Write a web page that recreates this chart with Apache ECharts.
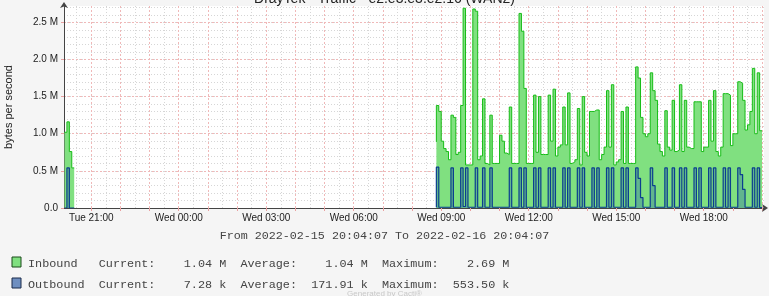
<!DOCTYPE html>
<html>
<head>
<meta charset="utf-8">
<script src="https://cdn.jsdelivr.net/npm/echarts@6/dist/echarts.min.js"></script>
<style>html,body{margin:0;padding:0;background:#f5f5f5}#c{width:769px;height:296px}</style>
</head>
<body>
<div id="c"></div>
<script>
// ---- data (bytes per second, in millions) ----
const titleText = 'DrayTek - Traffic - e2:e3:e3:e2:16 (WAN2)';
const yAxisName = 'bytes per second';
const tickLabels = ['Tue 21:00','Wed 00:00','Wed 03:00','Wed 06:00','Wed 09:00','Wed 12:00','Wed 15:00','Wed 18:00'];
const yTickLabels = ['0.0','0.5 M','1.0 M','1.5 M','2.0 M','2.5 M'];
const seg1Start = 'Tue 20:05';
const inbound1 = [1.02,1.02,1.16,0.76,0.54];
const outbound1 = [0.00,0.00,0.54,0.00,0.00];
const seg2Start = 'Wed 08:50';
const inbound2 = [
0.89,1.38,1.30,0.90,0.80,0.76,0.65,1.25,1.22,0.72,
0.75,1.38,2.69,0.58,0.58,0.58,2.68,2.65,0.65,0.70,
1.47,0.60,0.58,1.25,0.60,0.60,0.60,0.98,0.90,0.74,
0.72,1.36,0.60,0.60,0.60,2.62,2.38,1.61,0.60,0.60,
0.60,1.52,0.75,1.50,0.72,0.72,0.72,1.52,0.90,1.60,
0.70,0.82,0.85,1.36,0.85,1.55,0.60,0.62,0.65,1.34,
0.58,1.50,0.75,0.70,1.30,1.30,1.32,1.32,0.65,0.72,
0.82,1.58,0.82,1.66,0.58,0.62,0.65,1.30,0.60,1.36,
0.60,0.60,0.60,1.90,1.75,1.22,1.00,0.96,1.00,1.82,
1.58,1.45,0.86,0.76,0.70,1.31,0.82,0.78,1.45,0.76,
0.78,1.66,0.76,1.45,0.82,0.80,0.80,1.43,1.43,1.43,
0.76,0.82,0.82,1.45,0.90,1.58,0.76,0.70,0.82,1.54,
1.54,1.52,0.84,1.00,1.00,1.70,1.68,1.45,1.05,1.12,
1.30,1.88,1.00,1.82,1.04];
const outbound2 = [
0.01,0.55,0.01,0.01,0.01,0.01,0.01,0.54,0.01,0.01,
0.01,0.54,0.02,0.54,0.01,0.01,0.01,0.54,0.01,0.01,
0.54,0.01,0.01,0.54,0.01,0.01,0.01,0.01,0.01,0.01,
0.01,0.54,0.01,0.01,0.01,0.54,0.01,0.54,0.01,0.01,
0.01,0.54,0.01,0.54,0.01,0.01,0.01,0.54,0.01,0.54,
0.01,0.01,0.01,0.54,0.01,0.54,0.01,0.01,0.01,0.54,
0.01,0.54,0.01,0.01,0.01,0.54,0.01,0.54,0.01,0.01,
0.01,0.54,0.01,0.54,0.01,0.01,0.01,0.54,0.01,0.54,
0.01,0.01,0.01,0.54,0.40,0.14,0.01,0.01,0.01,0.54,
0.30,0.01,0.01,0.01,0.01,0.54,0.01,0.01,0.54,0.01,
0.01,0.54,0.01,0.54,0.01,0.01,0.01,0.54,0.01,0.54,
0.01,0.01,0.01,0.54,0.01,0.54,0.01,0.01,0.01,0.54,
0.01,0.54,0.01,0.01,0.01,0.54,0.45,0.25,0.01,0.01,
0.01,0.54,0.01,0.54,0.007];
const rangeText = 'From 2022-02-15 20:04:07 To 2022-02-16 20:04:07';
const legendRows = [
  ['Inbound',  '1.04 M', '1.04 M',   '2.69 M'],
  ['Outbound', '7.28 k', '171.91 k', '553.50 k']
];

// ---- minute categories from 20:04:07 Tue to 20:04:07 Wed ----
const categories = [];
for (let k = 0; k <= 1440; k++) {
  const t = 20 * 60 + 4 + k;
  const day = t >= 1440 ? 'Wed' : 'Tue';
  const hh = Math.floor((t % 1440) / 60), mm = t % 60;
  categories.push(day + ' ' + String(hh).padStart(2, '0') + ':' + String(mm).padStart(2, '0'));
}
function build(startLabel, vals) {
  const s = categories.indexOf(startLabel);
  return vals.map((v, i) => [s + 5 * i, v * 1e6]);
}

const pad = (s, n) => s.padStart(n, ' ');
const rowText = r => (r[0] + '  ').padEnd(10, ' ') + 'Current:' + pad(r[1], 10) + '  Average:' + pad(r[2], 10) + '  Maximum:' + pad(r[3], 10);

const chart = echarts.init(document.getElementById('c'), null, {renderer: 'canvas'});
const mono = '"Liberation Mono", monospace';
const sans = '"Liberation Sans", Arial, sans-serif';
const inStyle = {type: 'line', xAxisIndex: 1, yAxisIndex: 1, step: 'start', showSymbol: false,
  lineStyle: {color: '#17bd17', width: 1}, areaStyle: {color: '#80e080', opacity: 1}, z: 2};
const outStyle = {type: 'line', xAxisIndex: 1, yAxisIndex: 1, step: 'start', showSymbol: false,
  lineStyle: {color: '#0b3f8f', width: 1.2}, areaStyle: {color: 'rgba(40,100,170,0.35)', opacity: 1}, z: 3};
chart.setOption({
  animation: false,
  backgroundColor: '#f5f5f5',
  title: {
    text: titleText, left: 'center', top: -8, padding: 0,
    textStyle: {fontFamily: sans, fontSize: 14, fontWeight: 'normal', color: '#222'}
  },
  grid: {left: 64, right: 5, top: 6, bottom: 88, containLabel: false, outerBoundsMode: 'none',
    show: true, backgroundColor: '#ffffff', borderWidth: 0},
  xAxis: [
    {
      type: 'category', data: categories, boundaryGap: false, position: 'bottom',
      axisLine: {show: false}, axisTick: {show: false}, axisLabel: {show: false},
      splitLine: {show: true, interval: (i, v) => v.endsWith(':30'),
        lineStyle: {color: '#d6d6d6', type: [1, 2], width: 1}}
    },
    {
      type: 'category', data: categories, boundaryGap: false, position: 'bottom',
      axisLine: {show: true, symbol: ['none', 'arrow'], symbolSize: [6, 6], symbolOffset: [0, 4],
        lineStyle: {color: '#444', width: 1}},
      axisTick: {show: true, length: 3, interval: (i, v) => v.endsWith(':00'), lineStyle: {color: '#e9a0a0'}},
      axisLabel: {interval: (i, v) => tickLabels.includes(v), fontFamily: sans, fontSize: 10, color: '#222', margin: 5},
      splitLine: {show: true, interval: (i, v) => v.endsWith(':00'),
        lineStyle: {color: '#f0b8b8', type: [2, 2], width: 1}}
    }
  ],
  yAxis: [
    {
      type: 'value', min: 0, max: 2.72e6, interval: 0.1e6, position: 'left',
      axisLine: {show: false}, axisTick: {show: false}, axisLabel: {show: false},
      splitLine: {show: true, showMaxLine: false, lineStyle: {color: '#d6d6d6', type: [1, 2], width: 1}}
    },
    {
      type: 'value', min: 0, max: 2.72e6, interval: 0.5e6, position: 'left',
      name: yAxisName, nameLocation: 'middle', nameGap: 50, nameRotate: 90,
      nameTextStyle: {fontFamily: sans, fontSize: 11, color: '#222'},
      axisLine: {show: true, symbol: ['none', 'arrow'], symbolSize: [6, 6], symbolOffset: [0, 4],
        lineStyle: {color: '#444', width: 1}},
      axisTick: {show: true, length: 3, lineStyle: {color: '#e9a0a0'}},
      axisLabel: {showMaxLabel: false, fontFamily: sans, fontSize: 10, color: '#222', margin: 6,
        formatter: v => yTickLabels[Math.round(v / 0.5e6)] || ''},
      splitLine: {show: true, showMaxLine: false, lineStyle: {color: '#f0b8b8', type: [2, 2], width: 1}}
    }
  ],
  series: [
    Object.assign({name: 'Inbound', data: build(seg1Start, inbound1)}, inStyle),
    Object.assign({name: 'Inbound', data: build(seg2Start, inbound2)}, inStyle),
    Object.assign({name: 'Outbound', data: build(seg1Start, outbound1)}, outStyle),
    Object.assign({name: 'Outbound', data: build(seg2Start, outbound2)}, outStyle)
  ],
  graphic: [
    {type: 'text', left: 'center', top: 230, style: {text: rangeText, font: '11.7px ' + mono, fill: '#444'}},
    {type: 'rect', shape: {x: 12, y: 257, width: 9, height: 10}, style: {fill: '#80e080', stroke: '#1a4a1a', lineWidth: 1}},
    {type: 'rect', shape: {x: 12, y: 278, width: 9, height: 10}, style: {fill: '#6f8fc0', stroke: '#1a2a4a', lineWidth: 1}},
    {type: 'text', x: 28, y: 258, style: {text: rowText(legendRows[0]), font: '11.8px ' + mono, fill: '#444'}},
    {type: 'text', x: 28, y: 279, style: {text: rowText(legendRows[1]), font: '11.8px ' + mono, fill: '#444'}},
    {type: 'text', left: 'center', top: 290, style: {text: 'Generated by Cacti®', font: '8px ' + sans, fill: '#c8c8c8'}}
  ]
});
</script>
</body>
</html>
